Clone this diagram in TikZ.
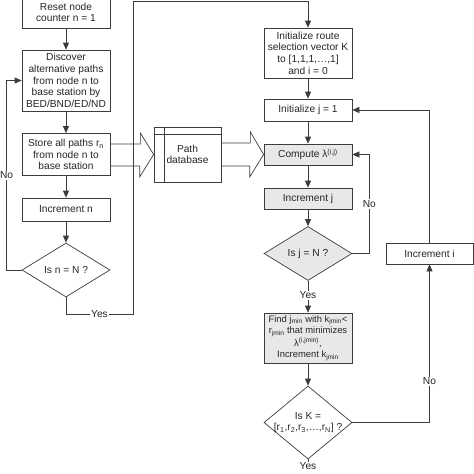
\documentclass[tikz,border=0pt]{standalone}
\usepackage{fontspec}
\setmainfont{Liberation Sans}
\definecolor{lineg}{RGB}{60, 60, 60}
\definecolor{boxg}{RGB}{232, 232, 232}
\usetikzlibrary{shapes.geometric, arrows.meta, positioning, calc}

\begin{document}
\begin{tikzpicture}[x=1pt, y=-1pt,
    every node/.style={font=\fontsize{10.2}{11.6}\selectfont, text=black!85},
    proc/.style={draw=lineg, line width=0.7pt, rectangle, align=center, inner sep=1pt, minimum width=88pt},
    procg/.style={proc, fill=boxg},
    dec/.style={draw=lineg, line width=0.7pt, diamond, align=center, inner sep=0pt, minimum width=88pt, minimum height=54pt},
    decg/.style={dec, fill=boxg},
    arr/.style={draw=lineg, line width=0.7pt, -{Triangle[length=7pt, width=6pt]}},
    wire/.style={draw=lineg, line width=0.7pt},
    blk/.style={draw=lineg, line width=0.7pt, line join=miter},
    lbl/.style={fill=white, inner sep=1pt}]
  \useasboundingbox (0,0) rectangle (474,474);

  % Node discovery loop
  \node[proc, minimum height=31pt] (reset) at (66,12.5) {Reset node\\counter n = 1};
  \node[proc, minimum height=61pt] (discover) at (66,80.5) {Discover\\alternative paths\\from node n to\\base station by\\BED/BND/ED/ND};
  \node[proc, minimum height=42pt] (store) at (66,154.5) {Store all paths r\textsubscript{n}\\from node n to\\base station};
  \node[proc, minimum height=23pt] (incn) at (66,209.5) {Increment n};
  \node[dec] (isn) at (66,270) {Is n = N ?};

  \draw[arr] (reset) -- (discover);
  \draw[arr] (discover) -- (store);
  \draw[arr] (store) -- (incn);
  \draw[arr] (incn) -- (isn);
  \draw[arr] (isn.west) -- ++(-15,0) |- node[lbl, pos=0.25] {No} (discover.west);

  % Path database
  \node[draw=lineg, line width=0.7pt, minimum width=67pt, minimum height=55pt, align=center] (pathdb) at (187.5,154.5) {Path\\database};
  \draw[wire] ([xshift=11pt]pathdb.north west) -- ([xshift=11pt]pathdb.south west);
  \draw[wire] ([yshift=-8pt]pathdb.north west) -- ([yshift=-8pt]pathdb.north east);

  % Route selection
  \node[proc, minimum height=50pt] (initk) at (308,53) {Initialize route\\selection vector K\\to [1,1,1,\dots,1]\\and i = 0};
  \node[proc, minimum height=22pt] (initj) at (308,110) {Initialize j = 1};
  \node[procg, minimum height=21pt] (comp) at (308,154.5) {Compute λ\textsuperscript{(i,j)}};
  \node[procg, minimum height=21pt] (incj) at (308,198.5) {Increment j};
  \node[decg] (isj) at (308,253.5) {Is j = N ?};
  \node[procg, minimum height=50pt, inner sep=0.5pt, font=\fontsize{9.4}{11.4}\selectfont] (find) at (308,338) {Find j\textsubscript{min} with k\textsubscript{jmin}<\\r\textsubscript{jmin} that minimizes\\λ\textsuperscript{(i,jmin)},\\Increment k\textsubscript{jmin}};
  \node[dec, minimum height=73pt, inner xsep=-15pt, inner ysep=-5pt] (isk) at (308,422.5) {Is K =\\{}[r\textsubscript{1},r\textsubscript{2},r\textsubscript{3},\dots,r\textsubscript{N}] ?};
  \node[proc, minimum width=87pt, minimum height=21pt] (inci) at (429.5,253.5) {Increment i};

  \draw[arr] (isn.south) |- node[lbl, pos=0.75] {Yes} (133,314) -- (133,1) -| (initk.north);
  \draw[arr] (initk) -- (initj);
  \draw[arr] (initj) -- (comp);
  \draw[arr] (comp) -- (incj);
  \draw[arr] (incj) -- (isj);
  \draw[arr] (isj) -- node[lbl, pos=0.45] {Yes} (find);
  \draw[arr] (find) -- (isk);
  \draw[arr] (isj.east) -- ++(17,0) |- node[lbl, pos=0.25] {No} (comp.east);
  \draw[arr] (isk.east) -| node[lbl, pos=0.63] {No} (inci.south);
  \draw[arr] (inci.north) |- (initj.east);
  \draw[wire] (isk.south) -- ++(0,3) node[lbl, anchor=north, inner sep=0pt] (yesk) {Yes};

  % Block arrows
  \draw[blk] ($(store.east)+(0,-10.5)$) -- ++(30,0) -- ++(0,-11) -- (pathdb.west) -- ++(-14,22.5) -- ++(0,-11) -- ($(store.east)+(0,11.5)$);
  \draw[blk] ($(pathdb.east)+(0,-11.5)$) -- ++(29,0) -- ++(0,-11) -- (comp.west) -- ++(-14,22.5) -- ++(0,-11) -- ($(pathdb.east)+(0,11.5)$);
\end{tikzpicture}
\end{document}
